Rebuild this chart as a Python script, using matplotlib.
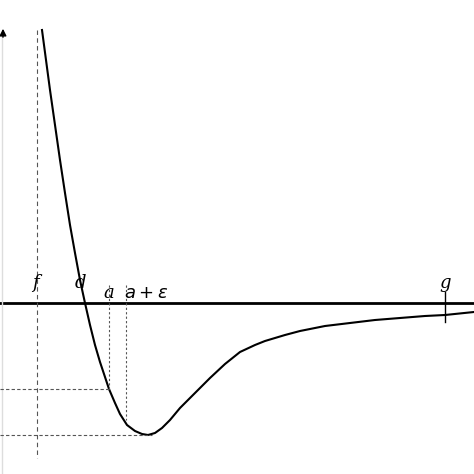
import matplotlib.pyplot as plt

# curve points (pixel-like units, y downwards)
curve_x = [42, 46, 50, 55, 60, 65, 70, 75, 80, 85, 90, 95, 100, 109, 115, 120, 127, 135, 142, 148,
           155, 162, 170, 180, 195, 210, 225, 240, 255, 265, 285, 300, 325, 350, 375, 400, 425, 445, 474]
curve_y = [30, 60, 90, 125, 160, 193, 225, 253, 280, 303, 325, 345, 362, 389, 403, 414, 425, 431, 434, 435,
           433, 428, 420, 408, 393, 378, 364, 352, 345, 341, 335, 331, 326, 323, 320, 318, 316, 315, 312]

axis_y = 303
x_f, x_d, x_a, x_ae, x_g = 37, 83, 109, 126, 445
y_a, y_min, x_min = 389, 435, 152

fig = plt.figure(figsize=(4.74, 4.74), dpi=100)
ax = fig.add_axes([0, 0, 1, 1])
ax.set_xlim(0, 474)
ax.set_ylim(474, 0)
ax.axis('off')

ax.plot(curve_x, curve_y, color='black', lw=1.5)
ax.axhline(axis_y, color='black', lw=2)
ax.plot([2, 2], [474, 32], color='#dddddd', lw=1)
ax.annotate('', xy=(3, 26), xytext=(3, 40),
            arrowprops=dict(arrowstyle='-|>', color='black', lw=1))

ax.plot([x_f, x_f], [30, 458], color='#555555', lw=0.8, ls=(0, (4, 3)))
ax.plot([x_a, x_a], [285, y_a], color='#555555', lw=0.8, ls=(0, (2, 2)))
ax.plot([x_ae, x_ae], [285, 420], color='#555555', lw=0.8, ls=(0, (2, 2)))
ax.plot([0, x_a], [y_a, y_a], color='#555555', lw=0.8, ls=(0, (3, 2)))
ax.plot([0, x_min], [y_min, y_min], color='#555555', lw=0.8, ls=(0, (3, 2)))
ax.plot([x_g, x_g], [292, 322], color='black', lw=1)

txt = dict(fontsize=13, family='DejaVu Serif', style='italic', ha='center', va='baseline')
ax.text(x_f - 2, 288, 'f', **txt)
ax.text(x_d - 3, 288, 'd', **txt)
ax.text(x_a, 298, 'a', **txt)
ax.text(146, 298, r'$a+\varepsilon$', fontsize=13, family='DejaVu Serif', ha='center', va='baseline')
ax.text(x_g, 288, 'g', **txt)

fig.savefig('out.png', dpi=100)
